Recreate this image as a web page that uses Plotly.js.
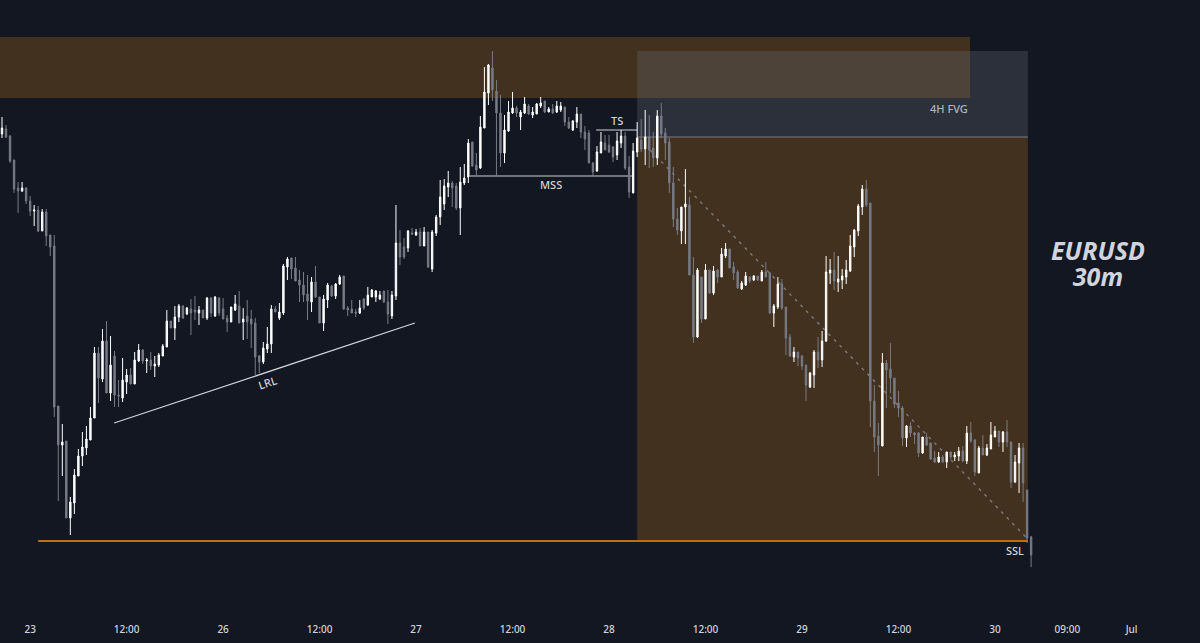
<!DOCTYPE html>
<html>
<head>
<meta charset="utf-8">
<script src="https://cdn.plot.ly/plotly-3.0.1.min.js"></script>
<style>html,body{margin:0;padding:0;background:#131722;overflow:hidden}#chart{width:1200px;height:643px}</style>
</head>
<body>
<div id="chart"></div>
<script>
// Candle levels (price scale units, candle index = 30-minute bar)
const opens = [466,471,464,440,412,409,412,399,389,390,369,388,365,354,194,155,159,82,97,124,144,152,160,182,247,221,259,207,244,205,202,218,225,216,239,250,239,240,234,235,244,253,279,272,283,294,286,291,290,287,290,282,302,284,302,291,282,278,290,294,278,284,281,277,244,238,251,256,291,282,287,333,342,332,320,315,306,298,318,303,277,300,314,304,316,324,292,291,288,287,301,295,303,303,301,309,298,284,304,357,353,352,367,365,368,354,368,331,367,383,396,413,417,414,392,417,423,458,435,432,472,507,532,509,487,447,469,487,492,483,487,494,485,486,494,499,488,491,488,490,493,478,470,478,486,468,467,437,429,447,457,455,453,445,457,464,433,407,448,460,451,463,452,442,484,467,458,417,381,369,393,395,325,263,323,281,330,307,330,323,344,351,333,328,311,315,323,320,324,319,328,327,287,293,316,293,263,243,248,244,235,213,225,248,240,259,327,330,318,320,323,329,353,369,393,411,397,199,164,154,237,231,222,197,192,162,174,167,167,147,163,157,142,138,143,138,148,143,144,149,139,167,160,127,152,145,151,163,169,158,168,158,118,137,152,110,63];
const highs = [483,475,465,440,418,418,413,404,395,394,391,391,365,365,194,176,159,103,131,151,168,174,193,253,253,271,279,264,249,220,242,231,232,248,256,251,242,248,244,247,256,290,279,294,296,295,293,301,304,294,290,303,303,304,303,302,285,293,305,309,292,300,290,282,245,258,273,295,294,297,336,343,342,343,330,328,325,323,334,303,305,317,315,317,325,324,294,300,291,300,302,313,311,310,309,309,310,309,395,370,362,370,372,371,372,373,368,370,385,420,421,429,419,417,433,436,461,458,447,484,533,536,549,520,505,485,499,508,494,490,503,496,493,497,503,499,493,496,499,498,493,483,480,493,486,474,470,438,454,468,465,465,454,468,470,468,444,457,478,481,490,485,468,490,497,472,462,433,392,393,431,403,343,332,323,336,330,334,331,352,357,351,338,330,319,328,324,325,324,330,338,328,296,323,321,293,266,253,248,245,235,228,250,263,269,344,341,348,344,331,340,365,371,396,415,420,397,215,177,247,240,257,222,209,194,175,178,168,168,163,167,157,149,148,145,148,148,148,153,154,174,178,161,154,165,156,178,174,169,169,180,158,145,157,157,110,64];
const lows = [462,462,437,407,387,408,396,384,374,368,369,354,344,183,99,124,82,65,86,124,134,145,160,182,197,218,207,199,193,193,198,206,216,216,238,236,227,230,223,233,244,253,272,260,278,281,285,265,280,275,282,280,283,283,284,281,268,278,289,277,260,261,252,224,227,236,247,247,288,280,285,320,321,319,298,298,280,288,302,277,269,292,303,301,315,290,284,287,283,286,290,294,303,298,300,297,276,281,300,335,341,348,365,364,354,354,332,328,364,375,390,403,393,390,365,415,417,433,425,431,472,495,499,424,433,437,468,486,483,470,486,485,482,486,492,487,488,486,487,488,474,471,469,472,462,450,437,424,428,447,450,447,438,440,452,430,402,407,443,448,435,432,433,435,462,440,407,373,365,356,356,325,257,262,277,281,306,305,317,323,342,332,320,311,310,314,317,319,319,319,323,286,273,291,290,245,243,238,234,230,199,212,212,232,233,258,316,310,308,311,316,328,343,364,385,393,173,148,124,154,192,207,192,183,154,153,163,156,143,146,154,140,137,137,137,132,141,139,139,138,136,157,124,127,145,144,151,163,153,148,153,112,117,107,98,57,33];
const closes = [472,463,439,411,409,412,399,389,390,369,388,364,353,193,155,158,82,98,125,144,153,161,182,247,222,259,207,235,205,204,220,225,216,240,250,239,240,234,236,245,254,279,272,283,294,282,292,287,288,290,282,302,287,303,287,281,278,293,296,277,281,278,276,243,238,252,256,291,288,288,334,341,331,319,315,305,299,318,303,277,301,315,304,316,323,291,290,287,287,292,292,305,310,309,305,298,286,305,357,343,343,369,366,368,354,368,333,368,383,403,414,417,412,392,418,422,457,434,430,473,508,535,510,487,447,470,488,492,487,488,496,486,488,496,497,488,491,487,494,494,478,472,479,486,468,461,437,428,448,458,450,448,443,459,464,432,408,449,462,451,463,450,442,484,466,457,417,381,370,393,396,325,263,330,281,330,307,329,323,346,351,332,327,312,317,324,319,324,320,328,323,287,294,316,292,262,244,248,242,234,215,227,248,240,259,328,330,319,321,324,330,354,370,394,411,395,199,163,155,237,230,222,196,192,162,174,167,165,147,163,155,141,138,143,138,148,143,145,149,139,167,159,128,152,145,152,165,169,158,168,158,118,138,152,117,62,45];

// Horizontal axis labels, placed on candle indices
const tickIndex = [7,31,55,79,103,127,151,175,199,223,247,265,281];
const tickText = ["23","12:00","26","12:00","27","12:00","28","12:00","29","12:00","30","09:00","Jul"];

// Drawing tool objects, as [x0, x1, y0, y1] in candle index and price units
const supplyZone = [-1, 240.8, 502, 563];
const fvgZone = [158, 255.2, 463, 549];
const sellZone = [158, 255.2, 60, 463];
const fvgEdge = [158, 255.2, 463, 463];
const sslLine = [9, 255.2, 59, 59];
const lrlLine = [27.9, 102.7, 177, 277];
const mssLine = [116.4, 156.7, 424, 424];
const tsLine = [147.8, 158, 470, 470];
const pathLine = [161.2, 254.7, 450, 63];

const notes = [
  {text:"LRL", x:66, y:218, textangle:-18, size:11, color:"#d1d4dc"},
  {text:"MSS", x:136.5, y:416, textangle:0, size:11, color:"#d1d4dc"},
  {text:"TS", x:153, y:480, textangle:0, size:11, color:"#d1d4dc"},
  {text:"4H FVG", x:235.6, y:492, textangle:0, size:11, color:"#b2b5be"},
  {text:"SSL", x:252, y:50, textangle:0, size:11, color:"#d1d4dc"}
];

const box = (c, fill, layer) => ({type:"rect", x0:c[0], x1:c[1], y0:c[2], y1:c[3], fillcolor:fill, line:{width:0}, layer:layer});
const seg = (c, color, width, dash) => ({type:"line", x0:c[0], x1:c[1], y0:c[2], y1:c[3], line:{color:color, width:width, dash:dash||"solid"}, layer:"below"});

const xs = opens.map((_, i) => i);

Plotly.newPlot("chart", [{
  type:"candlestick",
  x:xs, open:opens, high:highs, low:lows, close:closes,
  increasing:{line:{color:"#ffffff", width:1}, fillcolor:"#ffffff"},
  decreasing:{line:{color:"#787b86", width:1}, fillcolor:"#787b86"},
  hoverinfo:"skip",
  showlegend:false
}], {
  width:1200, height:643,
  margin:{l:0, r:0, t:0, b:21},
  paper_bgcolor:"#131722",
  plot_bgcolor:"#131722",
  boxgap:0.5,
  showlegend:false,
  xaxis:{
    range:[-0.4975, 298.01],
    rangeslider:{visible:false},
    tickmode:"array", tickvals:tickIndex, ticktext:tickText,
    showgrid:false, zeroline:false, showline:false, ticks:"",
    tickfont:{family:"Noto Sans, sans-serif", size:10, weight:500, color:"#d1d4dc"}
  },
  yaxis:{range:[-22, 600], visible:false, showgrid:false, zeroline:false},
  shapes:[
    box(supplyZone, "#41311e", "below"),
    box(sellZone, "#41311e", "below"),
    box(fvgZone, "rgba(120,123,134,0.25)", "below"),
    seg(fvgEdge, "#787b86", 1),
    seg(sslLine, "#ff8c00", 1.5),
    seg(lrlLine, "#d1d4dc", 1.2),
    seg(mssLine, "#d1d4dc", 1.2),
    seg(tsLine, "#d1d4dc", 1.2),
    seg(pathLine, "#787b86", 1.4, "3px,5px")
  ],
  annotations:notes.map(n => ({
    text:n.text, x:n.x, y:n.y, xref:"x", yref:"y", showarrow:false, textangle:n.textangle,
    font:{family:"Noto Sans, sans-serif", size:n.size, weight:500, color:n.color}
  })).concat([
    {text:'<b><i><span style="font-size:25px">EURUSD</span><br><span style="font-size:25px">30m</span></i></b>',
     x:272.7, y:337, xref:"x", yref:"y", showarrow:false,
     font:{family:"Noto Sans, sans-serif", size:20, color:"#d1d4dc"}}
  ])
}, {staticPlot:true, displayModeBar:false});
</script>
</body>
</html>
